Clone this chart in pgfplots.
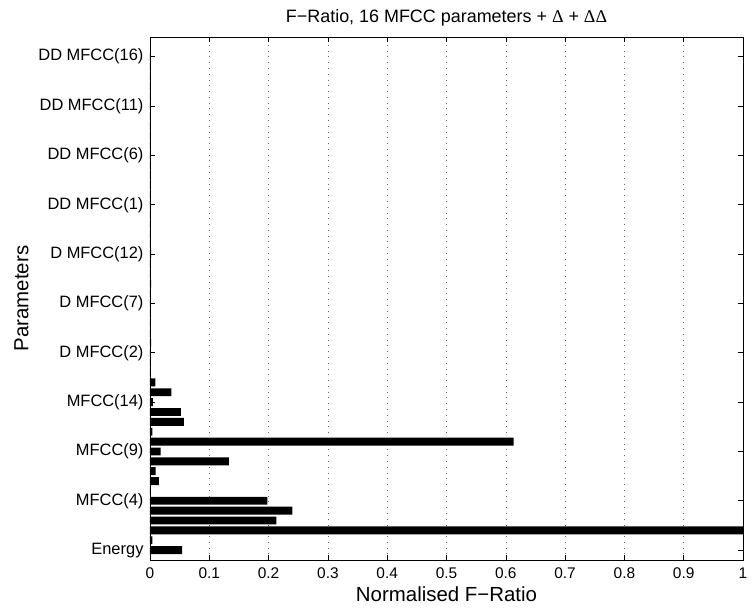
\documentclass[border=0pt]{standalone}
\usepackage{pgfplots}
\pgfplotsset{compat=1.18}
\usepackage{fontspec}
\setmainfont{Liberation Sans}
\newfontfamily\serifg{Liberation Serif}
\begin{document}
\begin{tikzpicture}
\path[use as bounding box] (-150bp,-48bp) rectangle (605bp,560bp);
\begin{axis}[
  at={(0,0)}, anchor=south west,
  scale only axis, width=593bp, height=523bp,
  xmin=0, xmax=1, ymin=0, ymax=53,
  xbar, bar width=0.8, bar shift=0pt,
  xtick={0,0.1,...,1},
  xticklabels={0,0.1,0.2,0.3,0.4,0.5,0.6,0.7,0.8,0.9,1},
  ytick={1,6,11,16,21,26,31,36,41,46,51},
  yticklabels={Energy,MFCC(4),MFCC(9),MFCC(14),D MFCC(2),D MFCC(7),D MFCC(12),DD MFCC(1),DD MFCC(6),DD MFCC(11),DD MFCC(16)},
  tick align=inside,
  major tick length=5bp,
  tick style={black, line width=0.6pt},
  xmajorgrids, major grid style={black!60, dash pattern=on 0.8pt off 5pt, line width=0.6pt},
  axis line style={black, line width=0.7pt},
  /pgf/number format/assume math mode=true,
  xticklabel style={yshift=-4bp, font=\fontsize{15.5}{17}\selectfont},
  yticklabel style={xshift=-3bp, font=\fontsize{16.5}{18}\selectfont},
  xlabel={\fontsize{20.5}{22}\selectfont Normalised F−Ratio},
  xlabel style={yshift=-1bp},
  ylabel={\fontsize{20.5}{22}\selectfont Parameters},
  ylabel style={yshift=3bp},
  title={\fontsize{18}{20}\selectfont F−Ratio, 16 MFCC parameters + {\serifg Δ} + {\serifg ΔΔ}},
  title style={yshift=1bp},
]
\addplot[fill=black, draw=none] coordinates {
(0.054,1) (0.004,2) (1.0,3) (0.213,4) (0.240,5) (0.198,6) (0,7)
(0.015,8) (0.0095,9) (0.133,10) (0.018,11) (0.613,12) (0.004,13)
(0.057,14) (0.052,15) (0.005,16) (0.036,17) (0.009,18)
(0,19) (0,20) (0,21) (0.002,22) (0,23) (0,24) (0,25) (0,26) (0,27)
(0.002,28) (0,29) (0,30) (0.002,31) (0,32) (0,33) (0,34) (0,35)
(0,36) (0,37) (0,38) (0,39) (0,40) (0,41) (0,42) (0,43) (0,44)
(0,45) (0,46) (0,47) (0,48) (0,49) (0,50) (0,51)
};
\end{axis}
\end{tikzpicture}
\end{document}
